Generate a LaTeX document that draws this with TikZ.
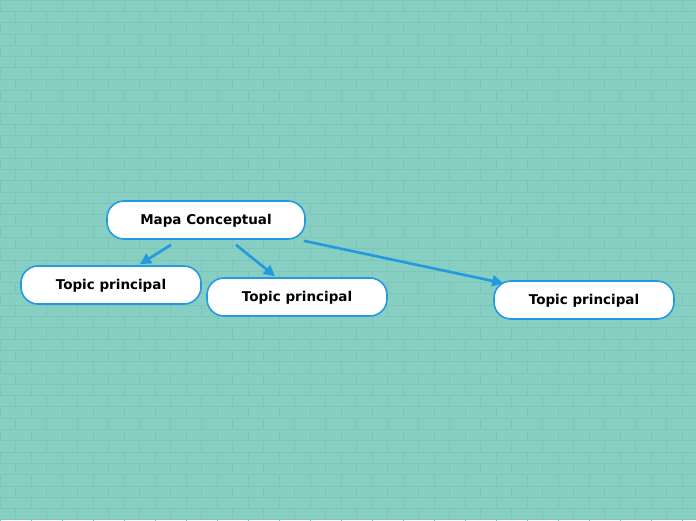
\documentclass[tikz,border=0pt]{standalone}
\usepackage{fontspec}
\setmainfont{DejaVu Sans}
\usetikzlibrary{calc,arrows.meta}
\definecolor{bg}{HTML}{86CFC2}
\definecolor{brick}{HTML}{7CC5B8}
\definecolor{edge}{HTML}{2499E0}
\tikzset{
  topic/.style={draw=edge, line width=1.6pt, fill=white, rounded corners=17pt, minimum height=38pt, font=\bfseries\fontsize{13.5}{16}\selectfont, inner sep=0pt, text height=9pt, text depth=1pt},
  conn/.style={draw=edge, line width=2.6pt, -{Triangle[length=11pt,width=11pt]}}
}
\begin{document}
\begin{tikzpicture}[x=1pt,y=-1pt]
\useasboundingbox (0,0) rectangle (696,520);
\fill[bg] (0,0) rectangle (696,520);
\begin{scope}[draw=brick, line width=0.8pt]
\clip (0,0) rectangle (696,520);
\foreach \r in {0,...,46}{
  \pgfmathsetmacro\yy{\r*11.3}
  \draw (0,\yy) -- (696,\yy);
  \pgfmathsetmacro\off{mod(\r,2)*15.5}
  \foreach \c in {0,...,23}{
    \draw ({\c*31+\off},\yy) -- ({\c*31+\off},{\yy+11.3});
  }
}
\end{scope}
\node[topic, minimum width=198pt] (m) at (206,220) {Mapa Conceptual};
\node[topic, minimum width=180pt] (t1) at (111,285) {Topic principal};
\node[topic, minimum width=180pt] (t2) at (297,297) {Topic principal};
\node[topic, minimum width=180pt] (t3) at (584,300) {Topic principal};
\draw[conn] ($(m.south)+(-35,5)$) -- ($(t1.north)+(29,-1)$);
\draw[conn] ($(m.south)+(30,5)$) -- ($(t2.north)+(-22,-1)$);
\draw[conn] ($(m.south east)+(-2,1)$) -- ($(t3.north west)+(10,3)$);
\end{tikzpicture}
\end{document}
